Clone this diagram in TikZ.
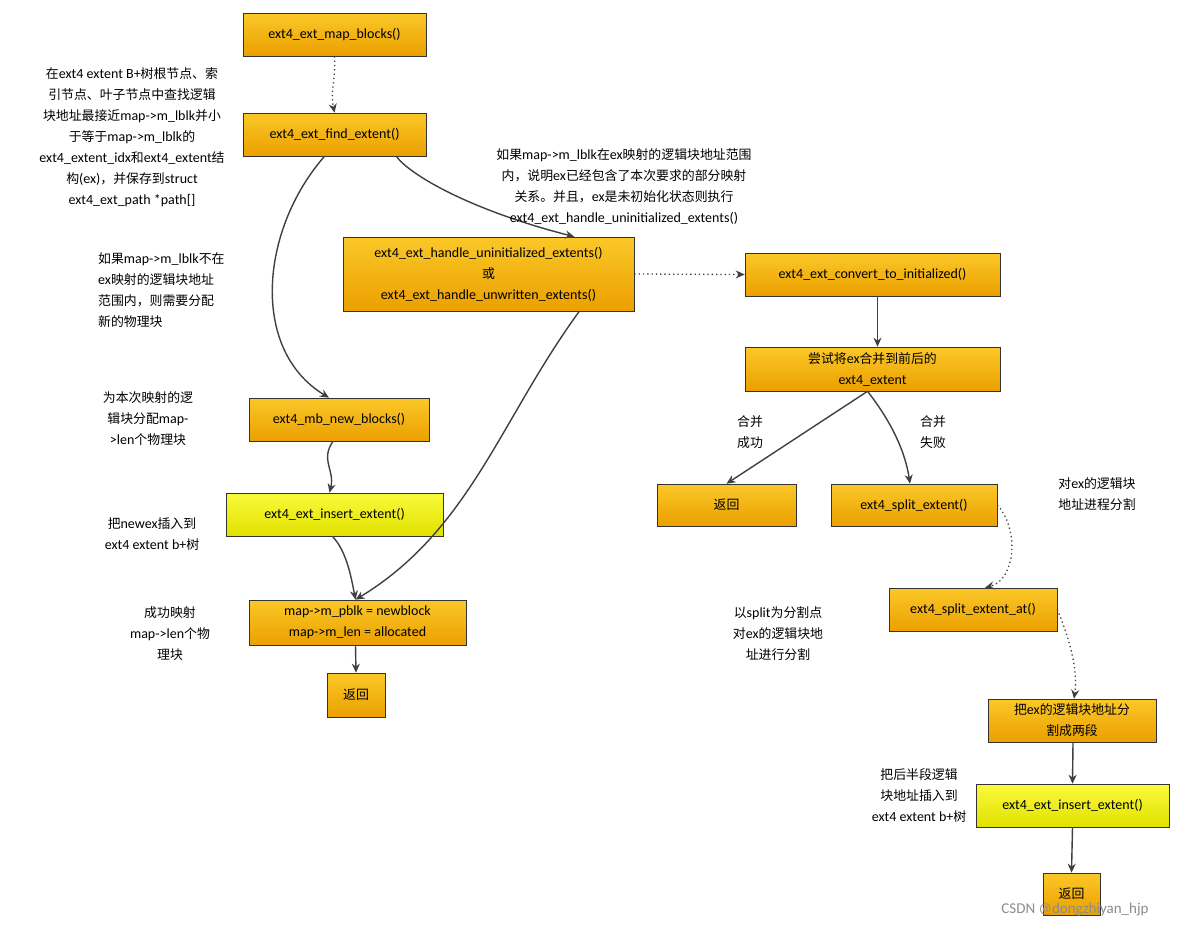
\documentclass[tikz,border=0pt]{standalone}
\usepackage{fontspec}
\setmainfont{Carlito}
\newfontfamily\cjkf{Noto Sans CJK SC}[Scale=0.92]
\usetikzlibrary{arrows.meta}
\XeTeXinterchartokenstate=1
\newXeTeXintercharclass\CJKcls
\makeatletter
\count@="4E00
\loop\ifnum\count@<"A000 \XeTeXcharclass\count@=\CJKcls \advance\count@ by 1 \repeat
\count@="3000
\loop\ifnum\count@<"3040 \XeTeXcharclass\count@=\CJKcls \advance\count@ by 1 \repeat
\count@="FF00
\loop\ifnum\count@<"FFF0 \XeTeXcharclass\count@=\CJKcls \advance\count@ by 1 \repeat
\makeatother
\XeTeXinterchartoks 0 \CJKcls = {\cjkf}
\XeTeXinterchartoks 4095 \CJKcls = {\cjkf}
\XeTeXinterchartoks \CJKcls 0 = {\normalfont}
\XeTeXinterchartoks 4095 0 = {\normalfont}
\definecolor{otop}{RGB}{250,200,40}
\definecolor{obot}{RGB}{235,160,0}
\definecolor{ytop}{RGB}{250,250,60}
\definecolor{ybot}{RGB}{225,225,0}
\definecolor{ln}{RGB}{64,64,64}
\tikzset{
  ob/.style={draw=black!80, line width=0.6pt, top color=otop, bottom color=obot, inner sep=0pt, align=center, font=\fontsize{14}{21}\selectfont},
  yb/.style={ob, top color=ytop, bottom color=ybot},
  lb/.style={align=center, font=\fontsize{14}{21}\selectfont, inner sep=0pt},
  ar/.style={draw=ln, line width=1.4pt, -{Stealth[length=9pt,width=8pt]}},
  dar/.style={ar, line width=1.3pt, dash pattern=on 1.3pt off 3pt}
}
\begin{document}
\begin{tikzpicture}[x=1pt,y=-1pt]
\useasboundingbox[fill=white] (0,0) rectangle (1191,930);
\newcommand\bx[7]{\node[#1, minimum width=#4-#2, minimum height=#5-#3] (#6) at ({(#2+#4)/2},{(#3+#5)/2}) {#7};}
\bx{ob}{243}{13}{426}{56}{b1}{ext4\_ext\_map\_blocks()}
\bx{ob}{243}{113}{426}{156}{b2}{ext4\_ext\_find\_extent()}
\bx{ob}{343}{237}{634}{311}{b3}{ext4\_ext\_handle\_uninitialized\_extents()\\或\\ext4\_ext\_handle\_unwritten\_extents()}
\bx{ob}{745}{253}{1000}{296}{b4}{ext4\_ext\_convert\_to\_initialized()}
\bx{ob}{745}{347}{1000}{391}{b5}{尝试将ex合并到前后的\\ext4\_extent}
\bx{ob}{657}{484}{796}{526}{b6}{返回}
\bx{ob}{831}{484}{997}{526}{b7}{ext4\_split\_extent()}
\bx{ob}{889}{588}{1057}{631}{b8}{ext4\_split\_extent\_at()}
\bx{ob}{988}{699}{1156}{742}{b9}{把ex的逻辑块地址分\\割成两段}
\bx{yb}{976}{784}{1169}{827}{b10}{ext4\_ext\_insert\_extent()}
\bx{ob}{1043}{873}{1100}{915}{b11}{返回}
\bx{ob}{249}{398}{429}{441}{b12}{ext4\_mb\_new\_blocks()}
\bx{yb}{226}{493}{443}{536}{b13}{ext4\_ext\_insert\_extent()}
\bx{ob}{249}{600}{466}{645}{b14}{map->m\_pblk = newblock\\map->m\_len = allocated}
\bx{ob}{327}{673}{385}{717}{b15}{返回}

\draw[dar] (b1.south) .. controls (336,80) and (330,90) .. (b2.north);
\draw[ar] (b2.south east)++(-30,0) .. controls (410,175) and (470,210) .. ([xshift=-60pt]b3.north east);
\draw[ar] (b2.south)++(-10,0) .. controls (260,230) and (250,350) .. ([xshift=-10pt]b12.north);
\draw[ar] ([xshift=-55pt]b3.south east) .. controls (500,420) and (470,530) .. ([xshift=-2pt]b14.north);
\draw[dar] (b3.east) -- (b4.west);
\draw[ar] ([xshift=5pt]b4.south) -- ([xshift=5pt]b5.north);
\draw[ar] ([xshift=-5pt]b5.south) -- (b6.north);
\draw[ar] ([xshift=-5pt]b5.south) .. controls (890,420) and (905,450) .. ([xshift=-4pt]b7.north);
\draw[dar] (b7.east) .. controls (1020,530) and (1015,580) .. ([xshift=12pt]b8.north);
\draw[dar] (b8.east) .. controls (1070,640) and (1078,670) .. ([xshift=2pt]b9.north);
\draw[ar] ([xshift=1pt]b9.south) -- ([xshift=0pt]b10.north);
\draw[ar] (b10.south) -- (b11.north);
\draw[ar] ([xshift=-6pt]b12.south) .. controls (320,460) and (335,470) .. ([xshift=-5pt]b13.north);
\draw[ar] ([xshift=-2pt]b13.south) .. controls (345,550) and (350,570) .. ([xshift=-2pt]b14.north);
\draw[ar] ([xshift=-2pt]b14.south) -- (b15.north);

\node[lb] (t1) at (132,137) {在ext4 extent B+树根节点、索\\引节点、叶子节点中查找逻辑\\块地址最接近map->m\_lblk并小\\于等于map->m\_lblk的\\ext4\_extent\_idx和ext4\_extent结\\构(ex)，并保存到struct\\ext4\_ext\_path *path[]};
\node[lb] (t2) at (624,187) {如果map->m\_lblk在ex映射的逻辑块地址范围\\内，说明ex已经包含了本次要求的部分映射\\关系。并且，ex是未初始化状态则执行\\ext4\_ext\_handle\_uninitialized\_extents()};
\node[lb, align=left, anchor=west] (t3) at (98,290) {如果map->m\_lblk不在\\ex映射的逻辑块地址\\范围内，则需要分配\\新的物理块};
\node[lb] (t4) at (148,419) {为本次映射的逻\\辑块分配map-\\>len个物理块};
\node[lb] (t5) at (152,534) {把newex插入到\\ext4 extent b+树};
\node[lb] (t6) at (170,634) {成功映射\\map->len个物\\理块};
\node[lb] (t7) at (750,432) {合并\\成功};
\node[lb] (t8) at (933,432) {合并\\失败};
\node[lb] (t9) at (1097,494) {对ex的逻辑块\\地址进程分割};
\node[lb] (t10) at (778,634) {以split为分割点\\对ex的逻辑块地\\址进行分割};
\node[lb] (t11) at (919,796) {把后半段逻辑\\块地址插入到\\ext4 extent b+树};
\node[lb, text=black!45, font=\fontsize{15}{18}\selectfont] (wm) at (1075,910) {CSDN @dongzhiyan\_hjp};
\end{tikzpicture}
\end{document}
